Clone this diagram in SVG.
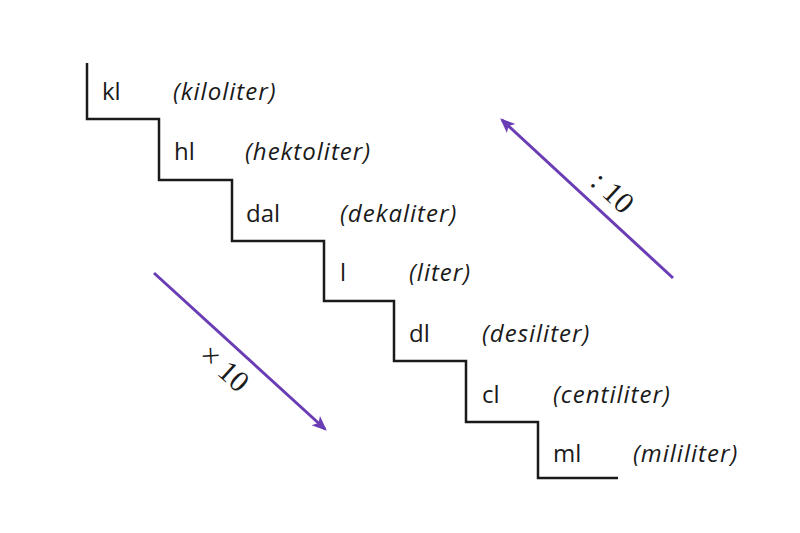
<svg xmlns="http://www.w3.org/2000/svg" width="800" height="533" viewBox="0 0 800 533">
<defs>
<style>
.u{font-family:"Open Sans","Liberation Sans",sans-serif;font-size:24px;fill:#1a1a1a}
.n{font-family:"Open Sans","Liberation Sans",sans-serif;font-size:24px;font-style:italic;letter-spacing:1px;fill:#1a1a1a}
.f{font-family:"Liberation Serif","Times New Roman",serif;font-size:30px;fill:#1a1a1a}
.arr{stroke:#6a3db5;stroke-width:3;fill:none;marker-end:url(#ah)}
</style>
<marker id="ah" viewBox="0 0 12 10" refX="10" refY="5" markerWidth="5" markerHeight="4.5" orient="auto" markerUnits="strokeWidth">
<path d="M0,0 L12,5 L0,10 L3,5 z" fill="#6a3db5"/>
</marker>
</defs>
<rect width="800" height="533" fill="#ffffff"/>
<g id="stairs">
<path d="M87,63 V119 H159 V180 H232 V241 H324 V301 H394 V361 H466 V422 H538 V478 H618" fill="none" stroke="#1a1a1a" stroke-width="2.5"/>
</g>
<g id="kl"><text class="u" x="102" y="100">kl</text><text class="n" x="173" y="100">(kiloliter)</text></g>
<g id="hl"><text class="u" x="174" y="160">hl</text><text class="n" x="245" y="160">(hektoliter)</text></g>
<g id="dal"><text class="u" x="246" y="222">dal</text><text class="n" x="340" y="222">(dekaliter)</text></g>
<g id="l"><text class="u" x="340" y="281">l</text><text class="n" x="409" y="281">(liter)</text></g>
<g id="dl"><text class="u" x="409" y="342">dl</text><text class="n" x="482" y="342">(desiliter)</text></g>
<g id="cl"><text class="u" x="482" y="403">cl</text><text class="n" x="553" y="403">(centiliter)</text></g>
<g id="ml"><text class="u" x="553" y="462">ml</text><text class="n" x="633" y="462">(mililiter)</text></g>
<g id="connectors">
<line class="arr" x1="673" y1="278" x2="502" y2="120"/>
<line class="arr" x1="154" y1="273" x2="325" y2="429"/>
</g>
<g id="labels">
<text class="f" transform="translate(612,193) rotate(43)" x="0" y="9" text-anchor="middle">: 10</text>
<text class="f" transform="translate(224,369) rotate(42)" x="0" y="9" text-anchor="middle">× 10</text>
</g>
</svg>
